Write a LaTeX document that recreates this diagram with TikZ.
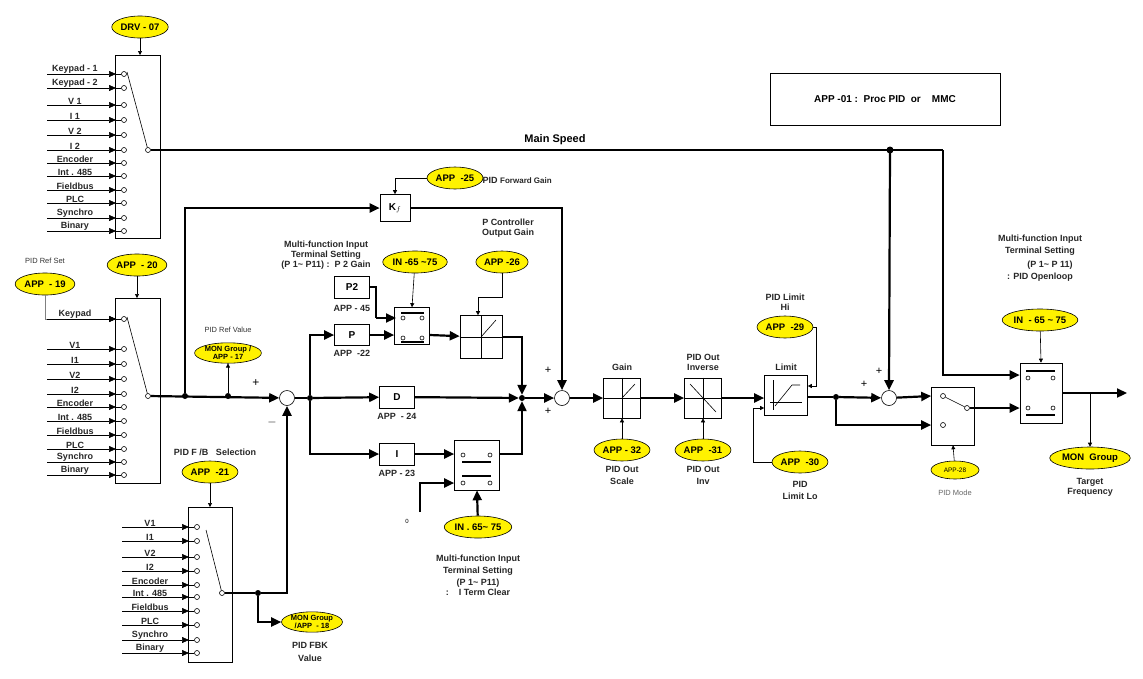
\documentclass[tikz,border=0pt]{standalone}
\usepackage{fontspec}
\setmainfont{Liberation Sans}
\usetikzlibrary{arrows.meta,shapes.geometric}
\begin{document}
\begin{tikzpicture}[x=1pt,y=-1pt,
  thin line/.style={line width=0.6pt},
  thick line/.style={line width=2.2pt},
  arr/.style={thin line,-{Triangle[length=7pt,width=6pt]}},
  tarr/.style={thick line,-{Triangle[length=10pt,width=9pt]}},
  sarr/.style={thin line,-{Triangle[length=4pt,width=4pt]}},
  lbl/.style={font=\fontsize{9}{9}\selectfont\bfseries,inner sep=0.5pt,text=black!85},
  capt/.style={font=\fontsize{9}{10}\selectfont\bfseries,align=center,inner sep=0.5pt,text=black!85},
  ell/.style={ellipse,draw,fill=yellow,thin line,font=\fontsize{9.5}{10}\selectfont\bfseries,inner sep=0.5pt,minimum height=22pt,align=center},
  blk/.style={draw,thin line,fill=white,font=\fontsize{10}{10}\selectfont\bfseries},
  sc/.style={circle,draw,thin line,inner sep=0pt,minimum size=5pt,fill=white},
  dot/.style={circle,fill,inner sep=0pt,minimum size=6pt},
  sum/.style={circle,draw,thin line,fill=white,minimum size=15pt,inner sep=0pt}]
\useasboundingbox (0,0) rectangle (1143,678);
% ---------- APP-01 box
\node[draw,thin line,minimum width=230pt,minimum height=52pt,font=\fontsize{10}{10}\selectfont\bfseries] (app01) at (885,99) {APP -01 :\ \ Proc PID\ \ or\ \ \ \ MMC};
% ---------- selector 1
\node[draw,thin line,minimum width=45pt,minimum height=183pt,anchor=north west] (s1) at (115,55) {};
\node[ell] (drv) at (140,27) {DRV - 07};
\draw[sarr] (drv) -- (s1.north -| drv);
\foreach \t/\y in {Keypad - 1/74,Keypad - 2/88,V 1/105,I 1/120,V 2/135,I 2/150,Encoder/163,Int . 485/176,Fieldbus/190,PLC/203,Synchro/218,Binary/231}{
  \draw[arr] (47,\y) -- (116,\y); \draw[thin line] (116,\y)--(121,\y);
  \node[sc] at (124,\y) {};
  \node[lbl,above] at (75,\y) {\t};}
\node[sc] (o1) at (148,150) {};
\draw[thin line] (127,72) -- (o1);
% ---------- selector 2
\node[draw,thin line,minimum width=45pt,minimum height=185pt,anchor=north west] (s2) at (115,298) {};
\node[ell] (a20) at (137,265) {APP\ \ - 20};
\draw[sarr] (a20) -- (a20 |- s2.north);
\node[ell] (a19) at (45,284) {APP\ \ - 19};
\node[font=\fontsize{7.5}{8}\selectfont,text=black!80] at (45,261) {PID Ref Set};
\draw[thin line,black!50] (a19.south) |- (105,319);
\draw[arr] (100,319) -- (116,319);
\foreach \t/\y in {Keypad/319,V1/349,I1/364,V2/379,I2/394,Encoder/407,Int . 485/421,Fieldbus/435,PLC/449,Synchro/462,Binary/475}{
  \draw[arr] (47,\y) -- (116,\y); \draw[thin line] (116,\y)--(121,\y);
  \node[sc] at (124,\y) {};
  \node[lbl,above] at (75,\y) {\t};}
\node[sc] (o2) at (148,396) {};
\draw[thin line] (127,317) -- (o2);
% ---------- selector 3
\node[draw,thin line,minimum width=44pt,minimum height=155pt,anchor=north west] (s3) at (188,507) {};
\node[ell] (a21) at (210,472) {APP\ \ -21};
\node[capt] at (215,452) {PID F /B\ \ \ Selection};
\draw[sarr] (a21) -- (a21 |- s3.north);
\foreach \t/\y in {V1/527,I1/541,V2/557,I2/571,Encoder/585,Int . 485/597,Fieldbus/611,PLC/625,Synchro/640,Binary/653}{
  \draw[arr] (122,\y) -- (189,\y); \draw[thin line] (189,\y)--(194,\y);
  \node[sc] at (197,\y) {};
  \node[lbl,above] at (150,\y) {\t};}
\node[sc] (o3) at (222,593) {};
\draw[thin line] (206,530) -- (o3);
% ---------- main speed
\coordinate (ms1) at (890,150);
\coordinate (ms2) at (943,150);
\draw[thick line] (o1) -- (ms2);
\node[font=\fontsize{11}{11}\selectfont\bfseries] at (555,140) {Main Speed};
\node[dot,minimum size=7pt] at (ms1) {};
% ---------- reference path
\node[dot] (j1) at (185,396) {};
\node[dot] (j2) at (228,396) {};
\node[sum] (sum1) at (287,398) {};
\draw[tarr] (o2) -- (sum1);
\node[font=\fontsize{12}{12}\selectfont] at (256,383) {+};
\node[font=\fontsize{12}{12}\selectfont] at (272,422) {$-$};
\node[ell,font=\fontsize{7.5}{8}\selectfont\bfseries,minimum height=20pt] (a17) at (228,353) {MON Group /\\APP - 17};
\node[font=\fontsize{7.5}{8}\selectfont,text=black!80] at (228,330) {PID Ref Value};
\draw[sarr] (j2) -- (a17);
% Kf
\node[blk,minimum width=30pt,minimum height=27pt] (kf) at (395,208) {K$_f$};
\draw[tarr] (j1) |- (kf);
\node[ell] (a25) at (455,178) {APP\ \ -25};
\node[capt,anchor=west] at (482,180) {PID {\fontsize{8}{8}\selectfont Forward Gain}};
\draw[sarr] (a25.west) -| (kf.north);
% feedback
\node[dot] (j3) at (258,593) {};
\draw[thick line] (o3) -- (j3);
\draw[tarr] (j3) -| (sum1.south);
\node[ell,font=\fontsize{7.5}{8}\selectfont\bfseries,minimum height=20pt] (a18) at (312,622) {MON Group\\/APP\ \ - 18};
\draw[tarr] (j3) |- (a18.west);
\node[capt] at (310,652) {PID FBK\\[3pt]Value};
% ---------- PID branches
\node[dot] (j4) at (310,398) {};
\draw[thick line] (sum1) -- (j4);
\node[blk,minimum width=35pt,minimum height=21pt] (P) at (352,335) {P};
\node[capt] at (352,353) {APP\ \ -22};
\node[blk,minimum width=35pt,minimum height=22pt] (D) at (397,397) {D};
\node[capt] at (397,416) {APP\ \ - 24};
\node[blk,minimum width=35pt,minimum height=22pt] (I) at (397,454) {I};
\node[capt] at (397,473) {APP - 23};
\draw[tarr] (j4) |- (P);
\draw[tarr] (j4) -- (D);
\draw[tarr] (j4) |- (I);
\node[blk,minimum width=35pt,minimum height=22pt] (P2) at (352,287) {P2};
\node[capt] at (352,308) {APP - 45};
\node[capt] at (326,255) {Multi-function Input\\Terminal Setting\\(P 1\textasciitilde{} P11) :\ \ P 2 Gain};
% P2 switch
\node[draw,thin line,minimum width=35pt,minimum height=37pt] (sw1) at (412,326) {};
\foreach \x/\y in {403/318,422/318,403/338,422/338} \node[sc,minimum size=4pt] at (\x,\y) {};
\draw[line width=1.5pt] (401,313) -- (424,313);
\draw[line width=1.5pt] (401,342) -- (424,342);
\draw[thick line] (P2.east) -| (376,318);
\draw[tarr] (376,318) -- (396,318);
\draw[tarr] (P) -- (sw1.west |- P);
\node[ell] (in1) at (415,262) {IN -65 \textasciitilde75};
\draw[sarr] (in1) -- (sw1.north);
% P controller gain
\node[draw,thin line,minimum width=42pt,minimum height=43pt] (pg) at (481,337) {};
\draw[thin line] (pg.west) -- (pg.east) (pg.north) -- (pg.south);
\draw[thin line] (481,337) -- (496,320);
\draw[tarr] (sw1.east |- P) -- (pg);
\node[ell] (a26) at (502,262) {APP -26};
\node[capt] at (508,228) {P Controller\\Output Gain};
\draw[sarr] (a26.south) |- (478,297) -- (pg.north -| 478,0);
% I switch
\node[draw,thin line,minimum width=45pt,minimum height=50pt] (sw2) at (477,465) {};
\foreach \x/\y in {463/455,490/455,463/483,490/483} \node[sc,minimum size=4pt] at (\x,\y) {};
\draw[line width=1.5pt] (462,462) -- (491,462);
\draw[line width=1.5pt] (462,476) -- (491,476);
\draw[tarr] (I) -- (sw2.west |- I);
\node[font=\fontsize{6}{6}\selectfont] (zero) at (407,521) {0};
\draw[tarr] (420,512) |- (sw2.west |- 0,483);
\node[ell] (in2) at (478,527) {IN . 65\textasciitilde{} 75};
\draw[tarr] (in2) -- (sw2.south);
\node[capt] at (478,575) {Multi-function Input\\[2pt]Terminal Setting\\[2pt](P 1\textasciitilde{} P11)\\[0pt]:\ \ \ \ I Term Clear};
% summing node of P,I,D
\node[dot] (j5) at (522,398) {};
\draw[tarr] (pg.east) -| (j5.north);
\draw[tarr] (D) -- (j5);
\draw[tarr] (sw2.east |- I) -| (j5.south);
\node[sum] (sum2) at (562,398) {};
\draw[tarr] (j5) -- (sum2);
\draw[tarr] (kf) -| (sum2.north);
\node[font=\fontsize{11}{11}\selectfont] at (548,370) {+};
\node[font=\fontsize{11}{11}\selectfont] at (548,411) {+};
% Gain
\node[draw,thin line,minimum width=37pt,minimum height=40pt] (gain) at (622,398) {};
\draw[thin line] (gain.west) -- (gain.east) (gain.north) -- (gain.south);
\draw[thin line] (622,398) -- (635,384);
\node[capt] at (622,367) {Gain};
\draw[tarr] (sum2) -- (gain);
\node[ell] (a32) at (622,450) {APP - 32};
\draw[sarr] (a32) -- (gain.south);
\node[capt] at (622,475) {PID Out\\[2pt]Scale};
% Inverse
\node[draw,thin line,minimum width=37pt,minimum height=40pt] (inv) at (703,398) {};
\draw[thin line] (inv.west) -- (inv.east) (inv.north) -- (inv.south);
\draw[thin line] (690,384) -- (716,412);
\node[capt] at (703,362) {PID Out\\Inverse};
\draw[tarr] (gain) -- (inv);
\node[ell] (a31) at (703,450) {APP\ \ -31};
\draw[sarr] (a31) -- (inv.south);
\node[capt] at (703,475) {PID Out\\[2pt]Inv};
% Limit
\node[draw,thin line,minimum width=43pt,minimum height=40pt] (lim) at (786,395) {};
\draw[thin line] (770,402) -- (802,402) (773,380) -- (773,410);
\draw[thin line] (775,406) -- (792,385) -- (800,385);
\node[capt] at (786,367) {Limit};
\draw[tarr] (inv) -- (lim.west |- inv);
\node[ell] (a29) at (785,327) {APP\ \ -29};
\node[capt] at (785,302) {PID Limit\\Hi};
\draw[sarr] (a29.east) -| (816,386) -- (lim.east |- 0,386);
\node[ell] (a30) at (800,462) {APP\ \ -30};
\draw[sarr] (a30.west) -| (753,408) -- (lim.west |- 0,408);
\node[capt] at (800,490) {PID\\[2pt]Limit Lo};
% sum 3
\node[dot] (j6) at (836,397) {};
\draw[thick line] (lim.east |- j6) -- (j6);
\node[sum] (sum3) at (889,398) {};
\draw[tarr] (j6) -- (sum3);
\draw[tarr] (ms1) -- (sum3.north);
\node[font=\fontsize{11}{11}\selectfont] at (864,384) {+};
\node[font=\fontsize{11}{11}\selectfont] at (879,371) {+};
% PID mode switch
\node[draw,thin line,minimum width=43pt,minimum height=58pt] (mode) at (953,416) {};
\node[sc] (m1) at (943,396) {};
\node[sc] (m2) at (943,425) {};
\node[sc] (m3) at (967,408) {};
\draw[thin line] (m1) -- (m3);
\draw[tarr] (sum3) -- (mode.west |- m1);
\draw[tarr] (j6) |- (mode.west |- m2);
\node[ell,font=\fontsize{6.5}{7}\selectfont\rmfamily,minimum height=18pt,minimum width=48pt] (a28) at (955,470) {APP-28};
\draw[sarr] (a28) -- (mode.south);
\node[font=\fontsize{7.5}{8}\selectfont,text=black!60] at (955,493) {PID Mode};
% open loop switch
\node[draw,thin line,minimum width=42pt,minimum height=60pt] (ol) at (1041,393) {};
\foreach \x/\y in {1028/378,1053/378,1028/408,1053/408} \node[sc,minimum size=4pt] at (\x,\y) {};
\draw[line width=1.5pt] (1026,371) -- (1055,371);
\draw[line width=1.5pt] (1026,415) -- (1055,415);
\draw[tarr] (ms2) |- (ol.west |- 0,375);
\draw[tarr] (m3) -- (ol.west |- m3);
\node[ell] (in3) at (1040,320) {IN\ \ - 65 \textasciitilde{} 75};
\node[capt] at (1040,258) {Multi-function Input\\[2pt]Terminal Setting\\[4pt]\hspace*{20pt}(P 1\textasciitilde{} P 11)\\[2pt]: PID Openloop};
\draw[sarr] (in3) -- (ol.north);
\coordinate (outend) at (1127,393);
\draw[tarr] (ol.east |- outend) -- (outend);
\node[ell] (mon) at (1090,458) {MON\ \ Group};
\draw[sarr] (1090,393) -- (mon);
\node[capt] at (1090,487) {Target\\Frequency};
\end{tikzpicture}
\end{document}
